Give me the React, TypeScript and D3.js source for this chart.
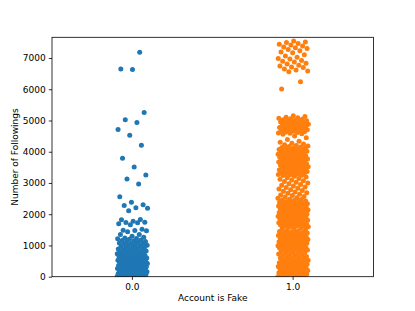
import React, { useEffect, useRef } from 'react';
import * as d3 from 'd3';

// categories on the x axis
const categories = ['0.0', '1.0'];
const colors = ['#1f77b4', '#ff7f0e'];

const realFollowings = [
  3, 9, 18, 24, 31, 40, 47, 52, 61, 69, 75, 83, 92, 98, 107, 113, 121, 130, 136, 144,
  152, 159, 167, 174, 182, 190, 197, 205, 214, 220, 228, 237, 243, 251, 260, 266, 274,
  283, 289, 297, 306, 312, 321, 329, 335, 344, 352, 359, 367, 375, 382, 391, 398, 406,
  415, 421, 430, 438, 445, 453, 461, 469, 476, 485, 492, 500, 511, 519, 528, 536, 545,
  556, 563, 574, 582, 593, 601, 612, 620, 631, 639, 650, 661, 669, 680, 691, 700, 712,
  721, 733, 744, 756, 765, 778, 789, 801, 812, 826, 837, 850, 863, 877, 890, 905, 918,
  934, 948, 963, 979, 994,
  1008, 1021, 1037, 1049, 1063, 1078, 1094, 1107, 1125, 1143, 1158, 1176, 1197, 1215,
  1238, 1262, 1291,
  1220, 1349, 1352, 1435, 1467, 1477, 1487, 1520, 1660, 1692, 1724, 1734, 1745, 1777,
  1820, 1830, 2110, 2193, 2206, 2280, 2302, 2387, 2559, 2965, 3125, 3253, 3510, 3789,
  4207, 4528, 4710, 4935, 5020, 5257, 6630, 6645, 7183,
];

// fake accounts (1.0)
const fakeFollowings = [
  2, 11, 19, 30, 38, 49, 57, 66, 77, 85, 96, 104, 115, 123, 134, 142, 153, 161, 172, 181,
  190, 201, 209, 220, 228, 239, 247, 258, 266, 277, 286, 295, 306, 314, 325, 333, 344,
  352, 363, 371, 382, 391, 400, 411, 419, 430, 438, 449, 457, 468, 476, 487, 496, 505,
  516, 524, 535,
  551, 566, 584, 598, 615, 631, 648, 662, 679, 695, 712, 727, 744, 760, 776, 793, 808,
  825, 841, 857, 872,
  884, 895, 903, 914, 922, 933, 942, 953, 961, 972, 980, 991, 1000, 1011, 1019, 1030,
  1038, 1049, 1058, 1068, 1077, 1088, 1096, 1107, 1115, 1126, 1135, 1145, 1154, 1165,
  1173, 1184, 1192, 1203, 1212, 1222, 1231, 1242, 1250, 1261, 1270, 1280, 1289, 1299,
  1309, 1318, 1328, 1337, 1348, 1356, 1367, 1376, 1386, 1395, 1406, 1414, 1425, 1434, 1444,
  1462, 1481, 1503, 1522, 1541, 1563, 1582, 1600,
  1612, 1623, 1631, 1642, 1651, 1661, 1670, 1681, 1689, 1700, 1709, 1719, 1728, 1739,
  1747, 1758, 1767, 1777, 1786, 1797, 1805, 1816, 1825, 1835, 1844, 1855, 1863, 1874,
  1883, 1893, 1902, 1913, 1921, 1932, 1941, 1951, 1960, 1971, 1979, 1990, 1999, 2009,
  2018, 2029, 2037, 2048, 2057, 2067, 2076, 2087, 2095, 2106, 2115, 2125, 2134, 2145,
  2153, 2164, 2173, 2183, 2192, 2203, 2211, 2222, 2231, 2241, 2250, 2261, 2269, 2280,
  2289, 2299, 2308, 2319, 2327, 2338, 2347, 2357, 2366, 2377, 2385, 2396, 2408, 2421,
  2437, 2452, 2470, 2488,
  2509, 2527, 2551, 2568, 2596, 2619, 2641, 2668, 2687, 2714, 2739, 2758, 2786, 2809,
  2833, 2857, 2874, 2906, 2927, 2955, 2978, 3003, 3022, 3049, 3071, 3098, 3117, 3146,
  3169, 3192, 3218, 3236,
  3251, 3262, 3275, 3286, 3297, 3309, 3321, 3333, 3344, 3356, 3368, 3379, 3391, 3403,
  3414, 3427, 3438, 3450, 3462, 3473, 3485, 3497, 3508, 3521, 3532, 3544, 3556, 3567,
  3579, 3591, 3602, 3615, 3626, 3638, 3650, 3661, 3673, 3685, 3696, 3709, 3720, 3732,
  3744, 3755, 3767, 3779, 3790, 3803, 3814, 3826, 3838, 3849, 3861, 3873, 3884, 3897,
  3908, 3920, 3932, 3943, 3955, 3967, 3978, 3991, 4002, 4014, 4026, 4037, 4049, 4061,
  4072, 4085, 4096, 4108, 4121, 4135, 4149, 4166, 4183, 4202, 4224, 4247, 4273, 4301,
  4338, 4392, 4447, 4503,
  4561, 4573, 4588, 4601, 4612, 4627, 4640, 4652, 4668, 4679, 4694, 4706, 4719, 4733,
  4747, 4760, 4774, 4787, 4801, 4815, 4828, 4842, 4856, 4869, 4883, 4897, 4910, 4924,
  4938, 4951, 4966, 4979, 4993, 5007, 5021, 5036, 5052, 5069, 5088, 5107, 5129, 5148,
  6012, 6240, 6560, 6583, 6618, 6652, 6694, 6715, 6748, 6771, 6812, 6836, 6874, 6893,
  6921, 6966, 6987, 7024, 7061, 7102, 7168, 7190, 7233, 7276, 7301, 7327, 7352, 7388,
  7415, 7437, 7461, 7493, 7512, 7548,
];

const yTicks = [0, 1000, 2000, 3000, 4000, 5000, 6000, 7000];
const yMax = 7663;

const StripPlot = () => {
  const svgRef = useRef<SVGSVGElement | null>(null);

  useEffect(() => {
    if (!svgRef.current) return;
    const svg = d3.select(svgRef.current);
    svg.selectAll('*').remove();

    const width = 415;
    const height = 311;
    const margin = { top: 37.3, right: 41.5, bottom: 34.3, left: 52 };
    const font = 'DejaVu Sans, sans-serif';

    const x = d3.scaleBand<string>()
      .domain(categories)
      .range([margin.left, width - margin.right])
      .padding(0);

    const y = d3.scaleLinear()
      .domain([0, yMax])
      .range([height - margin.bottom, margin.top]);

    svg.attr('width', width).attr('height', height);

    svg.append('defs').append('clipPath')
      .attr('id', 'plot-area')
      .append('rect')
      .attr('x', margin.left)
      .attr('y', margin.top)
      .attr('width', width - margin.left - margin.right)
      .attr('height', height - margin.top - margin.bottom);

    // jitter like seaborn's stripplot, spread by rank so dense parts fill evenly
    const jitter = (i: number) => ((i * 0.6180339887) % 1) - 0.5;
    const spread = 0.19;

    const groups = [realFollowings, fakeFollowings];
    const points = svg.append('g').attr('clip-path', 'url(#plot-area)');

    groups.forEach((values, gi) => {
      const cx0 = (x(categories[gi]) as number) + x.bandwidth() / 2;
      const sorted = [...values].sort((a, b) => a - b);
      points.append('g')
        .selectAll('circle')
        .data(sorted)
        .enter()
        .append('circle')
        .attr('cx', (d, i) => cx0 + jitter(i) * spread * x.bandwidth())
        .attr('cy', d => y(d))
        .attr('r', 2.5)
        .style('fill', colors[gi]);
    });

    // y axis
    const yAxis = svg.append('g')
      .attr('transform', `translate(${margin.left},0)`)
      .call(d3.axisLeft(y).tickValues(yTicks).tickSize(3.2).tickPadding(3.2).tickFormat(d3.format('d')));
    yAxis.select('.domain').remove();

    // x axis
    const xAxis = svg.append('g')
      .attr('transform', `translate(0,${height - margin.bottom})`)
      .call(d3.axisBottom(x).tickSize(3.2).tickPadding(3.4));
    xAxis.select('.domain').remove();

    [yAxis, xAxis].forEach(ax => {
      ax.selectAll('line').style('stroke', '#000').style('stroke-width', '0.8px');
      ax.selectAll('text')
        .style('font-family', font)
        .style('font-size', '9px')
        .style('fill', '#000');
    });

    // spines
    svg.append('rect')
      .attr('x', margin.left)
      .attr('y', margin.top)
      .attr('width', width - margin.left - margin.right)
      .attr('height', height - margin.top - margin.bottom)
      .style('fill', 'none')
      .style('stroke', '#000')
      .style('stroke-width', '0.8px');

    // axis labels
    svg.append('text')
      .attr('x', (margin.left + width - margin.right) / 2)
      .attr('y', 301.3)
      .attr('text-anchor', 'middle')
      .style('font-family', font)
      .style('font-size', '9px')
      .text('Account is Fake');

    svg.append('text')
      .attr('transform', `translate(18.3,${(margin.top + height - margin.bottom) / 2}) rotate(-90)`)
      .attr('text-anchor', 'middle')
      .style('font-family', font)
      .style('font-size', '9px')
      .text('Number of Followings');
  }, []);

  return <svg ref={svgRef} style={{ position: 'absolute', left: 0, top: 0, background: '#fff' }}></svg>;
};

export default function App() {
  return <StripPlot />;
}
